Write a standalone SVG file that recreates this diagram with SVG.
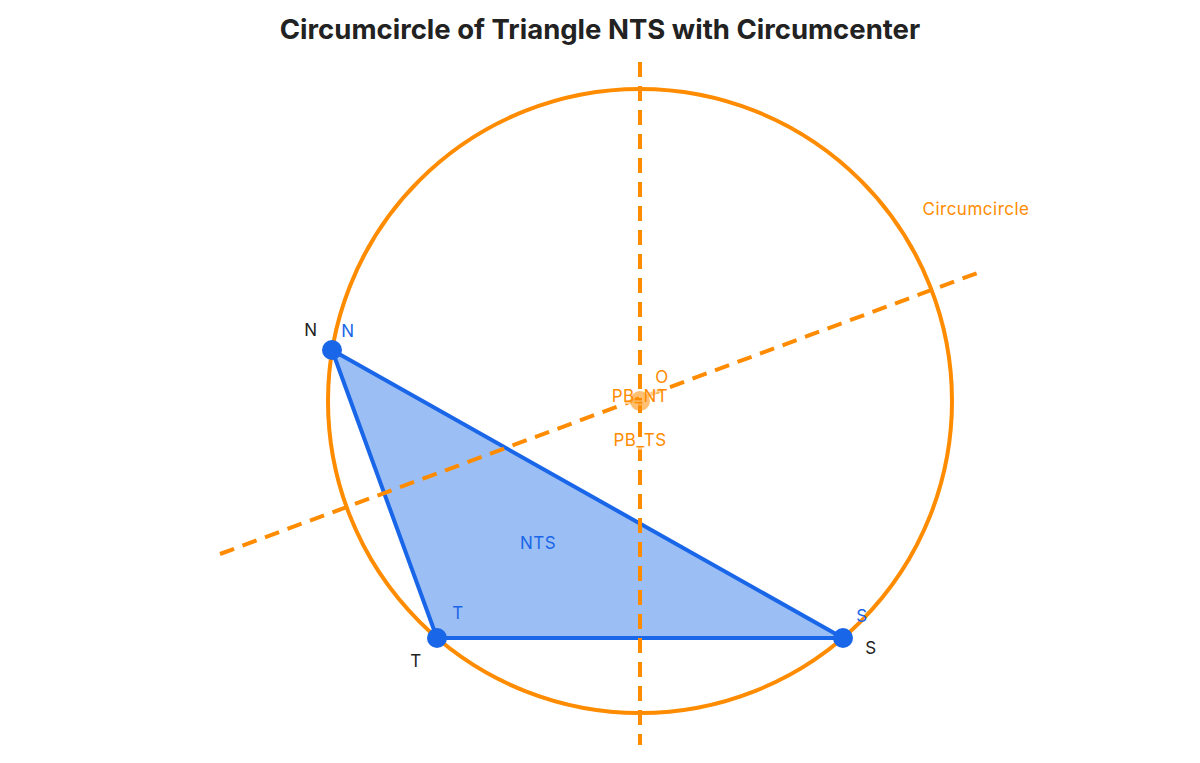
<svg xmlns="http://www.w3.org/2000/svg" width="1200" height="763" viewBox="0 0 1200 763">
<style>
.dash{stroke:#ff8c00;stroke-width:4;stroke-dasharray:15 9;fill:none}
.lbl{font-family:Inter,"Liberation Sans",sans-serif;font-size:17px;letter-spacing:0.5px}
.blue{fill:#1a66e8}
.dark{fill:#222}
.org{fill:#ff8c00}
.halo{stroke:#fff;stroke-opacity:0.6;stroke-width:4;paint-order:stroke}
</style>
<rect width="1200" height="763" fill="#fff"/>
<text x="600" y="39" text-anchor="middle" font-family="Inter,'Liberation Sans',sans-serif" font-size="27.5" font-weight="700" fill="#222">Circumcircle of Triangle NTS with Circumcenter</text>
<g id="circumcircle">
<circle cx="640" cy="401" r="312" fill="none" stroke="#ff8c00" stroke-width="4"/>
<text class="lbl org" x="976" y="215" text-anchor="middle">Circumcircle</text>
</g>
<g id="triangle">
<polygon points="332,350 437,638 843,638" fill="#9bbff5" stroke="#1a66e8" stroke-width="4" stroke-linejoin="round"/>
<text class="lbl blue" x="538" y="549" text-anchor="middle">NTS</text>
</g>
<g id="connectors">
<line id="pb_ts" class="dash" x1="640" y1="62" x2="640" y2="745"/>
<line id="pb_nt" class="dash" x1="220" y1="554" x2="980" y2="272"/>
</g>
<g id="O">
<text class="lbl org halo" x="640" y="402" text-anchor="middle">PB_NT</text>
<text class="lbl org halo" x="640" y="446" text-anchor="middle">PB_TS</text>
<circle cx="640" cy="401" r="10" fill="#ff8c00" fill-opacity="0.55"/>
<text class="lbl org" x="662" y="383" text-anchor="middle">O</text>
</g>
<g id="N">
<circle cx="332" cy="350" r="10" fill="#1a66e8"/>
<text class="lbl dark" x="311" y="336" text-anchor="middle">N</text>
<text class="lbl blue" x="348" y="337" text-anchor="middle">N</text>
</g>
<g id="T">
<circle cx="437" cy="638" r="10" fill="#1a66e8"/>
<text class="lbl blue" x="458" y="619" text-anchor="middle">T</text>
<text class="lbl dark" x="416" y="667" text-anchor="middle">T</text>
</g>
<g id="S">
<circle cx="843" cy="638" r="10" fill="#1a66e8"/>
<text class="lbl blue" x="862" y="622" text-anchor="middle">S</text>
<text class="lbl dark" x="871" y="654" text-anchor="middle">S</text>
</g>
</svg>
